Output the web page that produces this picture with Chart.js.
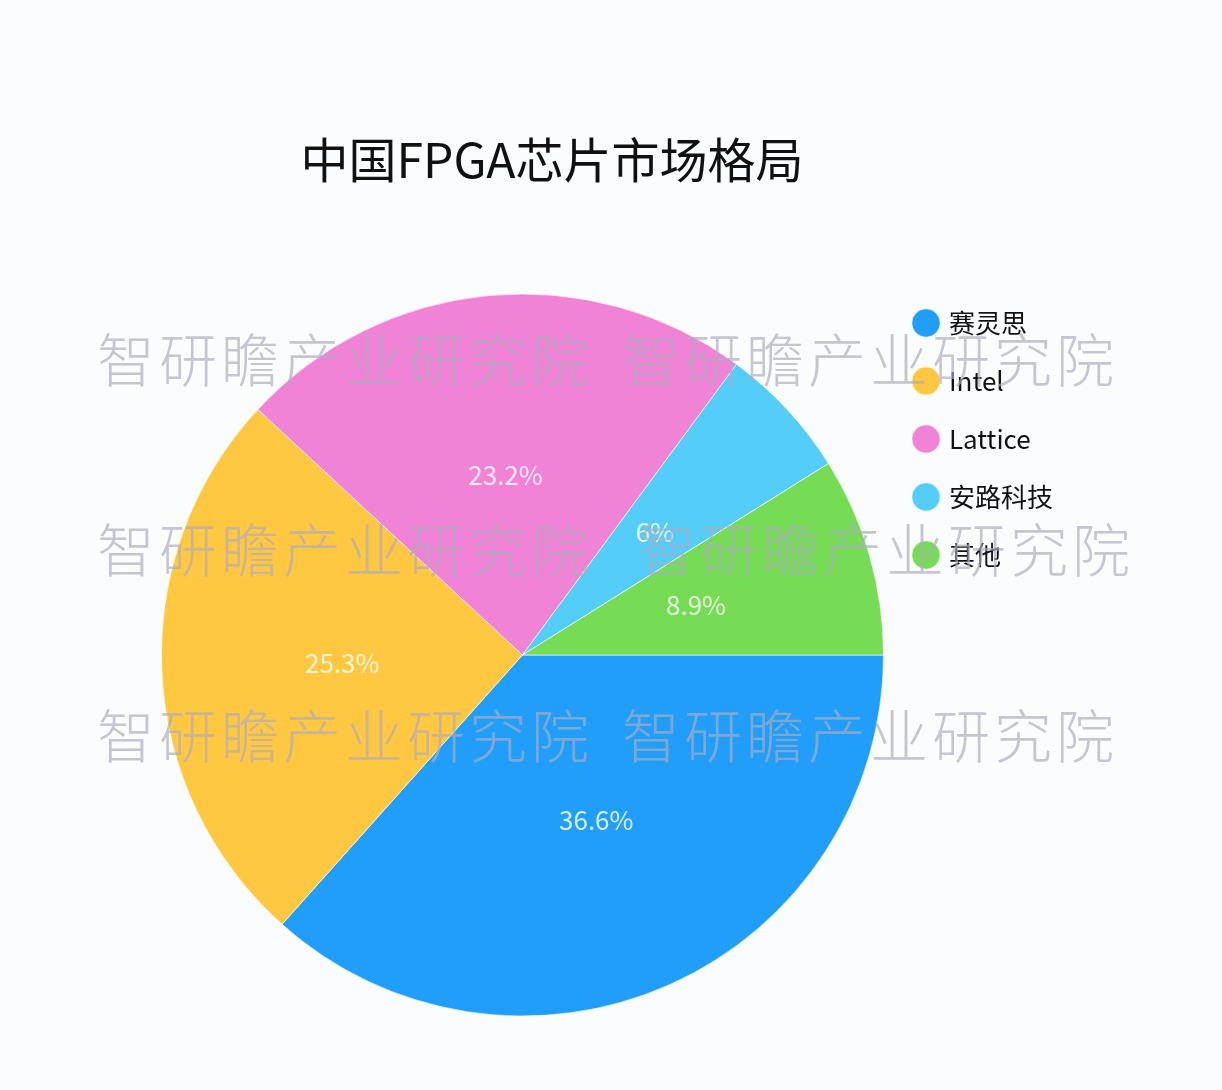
<!DOCTYPE html>
<html>
<head>
<meta charset="utf-8">
<script src="https://cdn.jsdelivr.net/npm/chart.js@4"></script>
<style>
  html, body { margin: 0; padding: 0; background: #fbfcfe; }
  #wrap { position: relative; width: 1222px; height: 1090px; overflow: hidden; }
  #myChart { position: absolute; left: 0; top: 0; }
  .wm { position: absolute; font-family: "Noto Sans CJK SC", sans-serif; font-size: 58px; font-weight: 300;
        letter-spacing: 4px; color: rgba(172, 172, 190, 0.68); white-space: nowrap; pointer-events: none; line-height: 1; }
</style>
</head>
<body>
<div id="wrap">
  <canvas id="myChart" width="1222" height="1090"></canvas>
  <div class="wm" style="left:97px; top:328px">智研瞻产业研究院</div>
  <div class="wm" style="left:622px; top:328px">智研瞻产业研究院</div>
  <div class="wm" style="left:97px; top:518px">智研瞻产业研究院</div>
  <div class="wm" style="left:638px; top:518px">智研瞻产业研究院</div>
  <div class="wm" style="left:97px; top:704px">智研瞻产业研究院</div>
  <div class="wm" style="left:622px; top:704px">智研瞻产业研究院</div>
</div>
<script>
const chartTitle = '中国FPGA芯片市场格局'
const companies = ['赛灵思', 'Intel', 'Lattice', '安路科技', '其他']
const shares = [36.6, 25.3, 23.2, 6, 8.9]
const colors = ['#219ef9', '#ffc840', '#f083d6', '#55cdf9', '#76dc55']

// title drawn by hand, the built-in one gets pushed around by the layout padding
const titlePlugin = {
    id: 'titlePlugin',
    afterDraw(chart) {
        const ctx = chart.ctx
        ctx.save()
        ctx.font = '48px "Noto Sans CJK SC", sans-serif'
        ctx.fillStyle = '#111'
        ctx.textAlign = 'center'
        ctx.textBaseline = 'middle'
        ctx.fillText(chartTitle, 552, 160)
        ctx.restore()
    }
}

// percent labels in the middle of each slice
const sliceLabels = {
    id: 'sliceLabels',
    afterDatasetsDraw(chart) {
        const ctx = chart.ctx
        const meta = chart.getDatasetMeta(0)
        ctx.save()
        ctx.font = '26px "Noto Sans CJK SC", sans-serif'
        ctx.fillStyle = 'rgba(255, 255, 255, 0.82)'
        ctx.textAlign = 'center'
        ctx.textBaseline = 'middle'
        meta.data.forEach((arc, i) => {
            const pos = arc.tooltipPosition()
            ctx.fillText(shares[i] + '%', pos.x, pos.y)
        })
        ctx.restore()
    }
}

const ctx = document.getElementById('myChart').getContext('2d')
const myChart = new Chart(ctx, {
    type: 'pie',
    data: {
        labels: companies,
        datasets: [{
            data: shares,
            backgroundColor: colors,
            borderColor: 'rgba(255, 255, 255, 0.6)',
            borderWidth: 1
        }]
    },
    options: {
        responsive: false,
        animation: false,
        rotation: 90,
        layout: {
            padding: { left: 161, right: 159, top: 278, bottom: 58 }
        },
        plugins: {
            title: { display: false },
            legend: {
                position: 'right',
                align: 'start',
                fullSize: false,
                labels: {
                    usePointStyle: true,
                    pointStyle: 'circle',
                    boxWidth: 20,
                    boxHeight: 20,
                    padding: 32,
                    color: '#111',
                    font: { family: '"Noto Sans CJK SC", sans-serif', size: 26 }
                }
            },
            tooltip: { enabled: false }
        }
    },
    plugins: [sliceLabels, titlePlugin]
})
</script>
</body>
</html>
